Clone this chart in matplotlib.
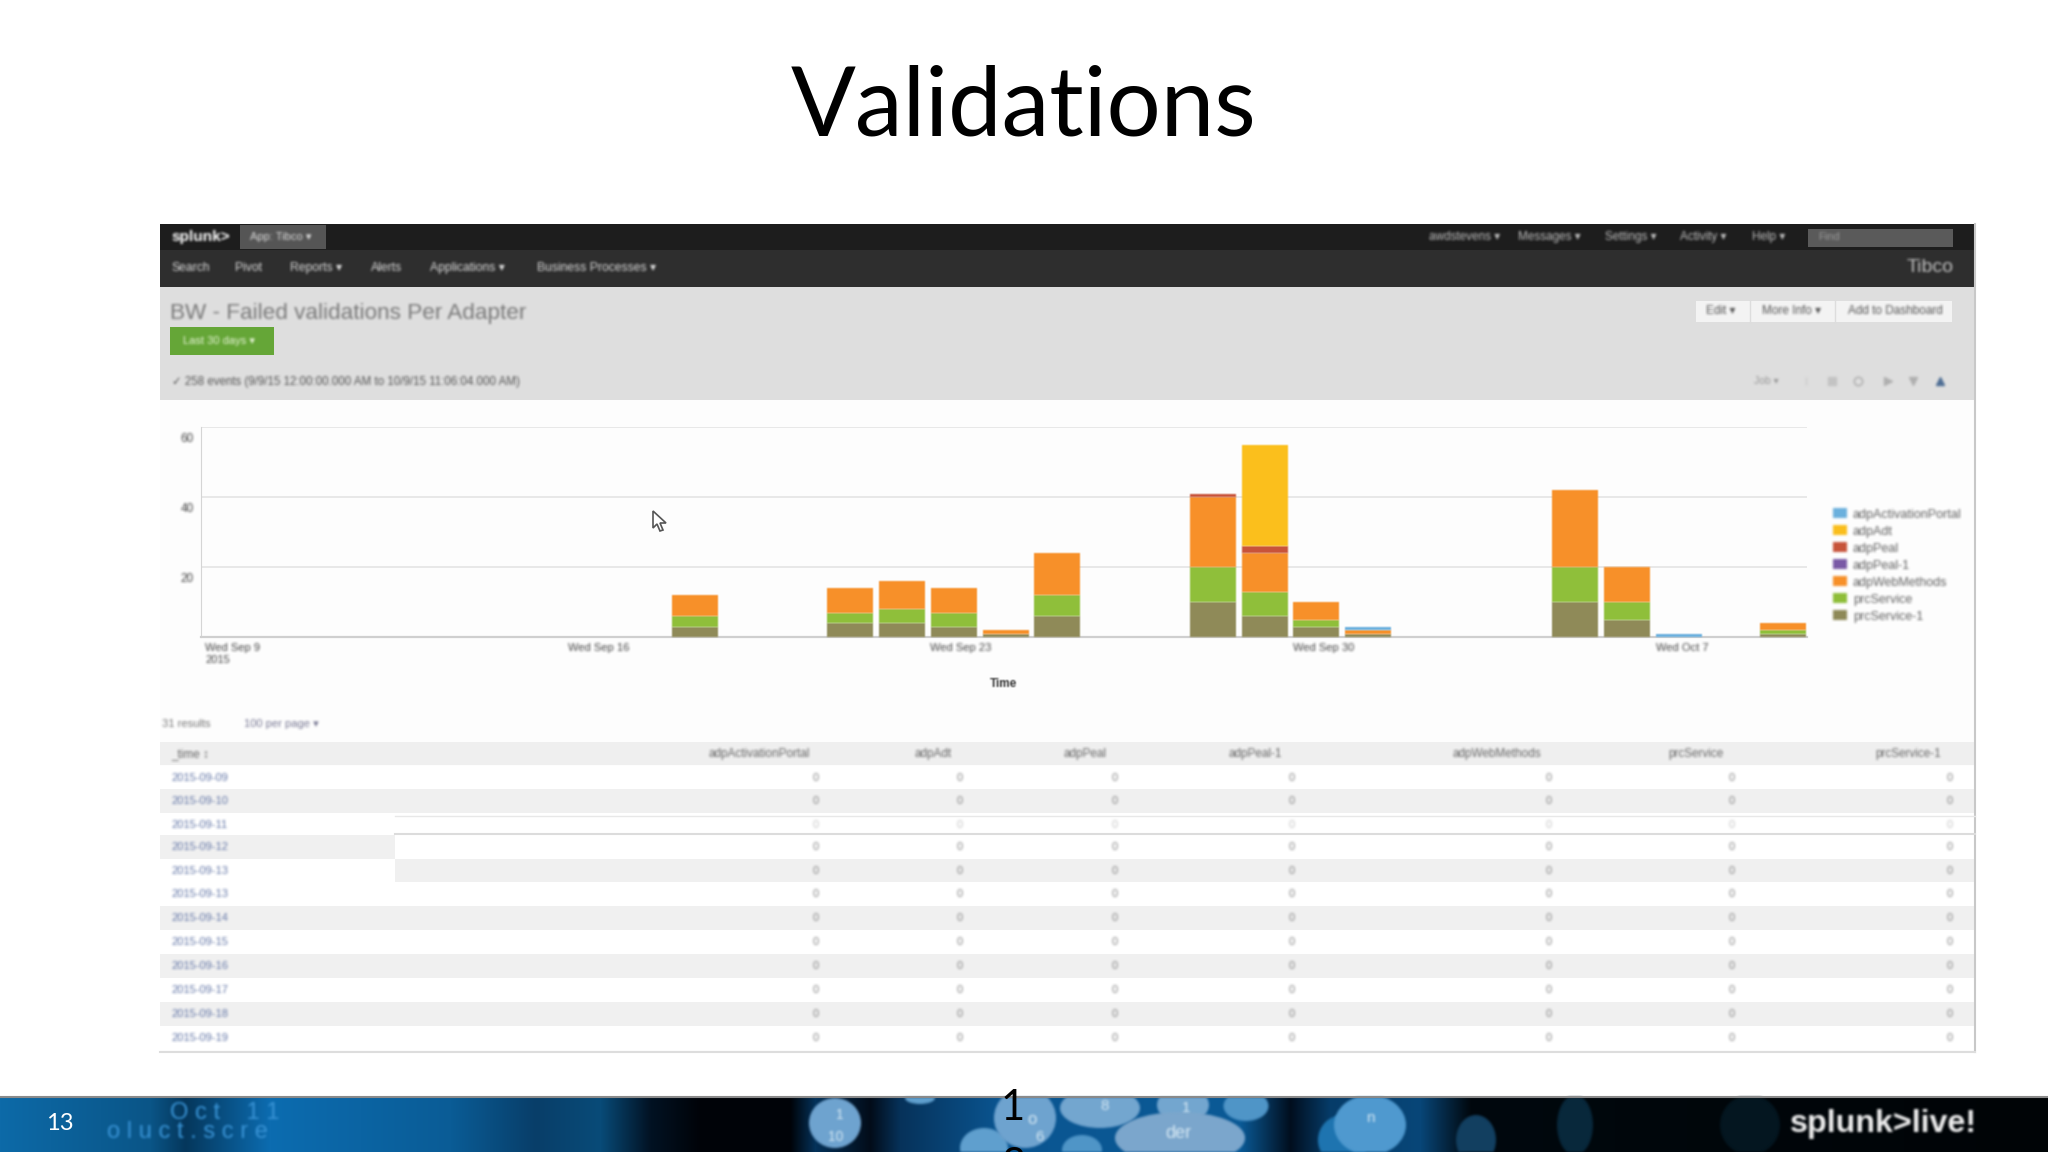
import numpy as np
import matplotlib
matplotlib.use("Agg")
import matplotlib.pyplot as plt
from matplotlib.patches import Rectangle, Ellipse, Polygon
from matplotlib.transforms import ScaledTranslation

# values, one per day, Sep 9 .. Oct 9
adp_activation = [0]*22 + [1] + [0]*5 + [1, 0, 0]
adp_adt        = [0]*20 + [29] + [0]*10
adp_peal       = [0]*19 + [1, 2] + [0]*10
adp_peal1      = [0]*31
adp_web        = [0,0,0,0,0,0,0,0,0,6,0,0,7,8,7,1,12,0,0,20,11,5,1,0,0,0,22,10,0,0,2]
prc_service    = [0,0,0,0,0,0,0,0,0,3,0,0,3,4,4,0,6,0,0,10,7,2,0,0,0,0,10,5,0,0,1]
prc_service1   = [0,0,0,0,0,0,0,0,0,3,0,0,4,4,3,1,6,0,0,10,6,3,1,0,0,0,10,5,0,0,1]

series_names = ["prcService-1", "prcService", "adpWebMethods", "adpPeal-1", "adpPeal", "adpAdt", "adpActivationPortal"]
series_vals = [prc_service1, prc_service, adp_web, adp_peal1, adp_peal, adp_adt, adp_activation]
series_cols = ["#8f8a58", "#8fbf3a", "#f79029", "#7b5aa6", "#c8533a", "#fbbf1c", "#6ab0de"]

y_ticks = [20, 40, 60]
x_tick_days = [0, 7, 14, 21, 28]
x_tick_labels = ["Wed Sep 9\n2015", "Wed Sep 16", "Wed Sep 23", "Wed Sep 30", "Wed Oct 7"]

table_cols = ["adpActivationPortal", "adpAdt", "adpPeal", "adpPeal-1", "adpWebMethods", "prcService", "prcService-1"]
table_rows = ["2015-09-09", "2015-09-10", "2015-09-11", "2015-09-12", "2015-09-13", "2015-09-13",
              "2015-09-14", "2015-09-15", "2015-09-16", "2015-09-17", "2015-09-18", "2015-09-19"]
row_centers = [778, 801, 825, 847, 871, 894, 918, 942, 966, 990, 1014, 1038]
row_shaded = [0, 1, 0, 1, 0, 0, 1, 0, 1, 0, 1, 0]
head_right = [810, 952, 1107, 1282, 1541, 1724, 1941]
val_x = [816, 960, 1115, 1292, 1549, 1732, 1950]

plt.rcParams['font.family'] = ['Liberation Sans', 'DejaVu Sans']


def soft(img, dpi, kernel=(1, 2, 3, 2, 1)):
    # the source is a blurry video frame, blur on premultiplied colour to avoid dark rims
    k = np.array(kernel, dtype=float)
    k = k / k.sum()
    pad = len(k)
    out = np.pad(img, ((pad, pad), (pad, pad), (0, 0)))
    out[..., :3] *= out[..., 3:]
    for axis in (0, 1):
        out = sum(w * np.roll(out, i - len(k) // 2, axis=axis) for i, w in enumerate(k))
    a = out[..., 3:]
    out[..., :3] = np.divide(out[..., :3], a, out=np.zeros_like(out[..., :3]), where=a > 0)
    return np.clip(out, 0, 1), -pad, -pad


def soft_bar(img, dpi):
    return soft(img, dpi, kernel=(1, 2, 1))


fig = plt.figure(figsize=(20.48, 11.52), dpi=100, facecolor="white")

# page layer, in pixel coordinates of the slide
bg = fig.add_axes([0, 0, 1, 1], zorder=0)
bg.set_xlim(0, 2048)
bg.set_ylim(1152, 0)
bg.axis('off')


def box(x0, y0, x1, y1, col, **kw):
    bg.add_patch(Rectangle((x0, y0), x1 - x0, y1 - y0, facecolor=col, edgecolor='none', **kw))


def label(x, y, s, size=8, col="#6a6a6a", ha='left', **kw):
    t = bg.text(x, y, s, fontsize=size, color=col, ha=ha, va='center', **kw)
    t.set_agg_filter(soft)
    return t


bg.text(1024, 109, "Validations", fontsize=69, color="black", ha='center', va='center', family=['Lato', 'DejaVu Sans'])

# splunk screenshot
box(160, 224, 1975, 1052, "#fdfdfd")
box(160, 224, 1975, 250, "#1d1d1d")
box(160, 250, 1975, 287, "#2e2e2e")
box(160, 287, 1975, 400, "#dedede")
box(240, 225, 326, 249, "#555555")
box(1808, 229, 1953, 247, "#5a5a5a")
bg.plot([1975, 1975], [224, 1052], color="#c8c8c8", lw=1.5)
bg.plot([160, 1975], [1052, 1052], color="#dddddd", lw=1.5)

label(171, 237, "splunk>", 11, "white", fontweight='bold')
label(250, 237, "App: Tibco ▾", 8, "#dddddd")
for x, s in zip([171, 235, 290, 371, 430, 537],
                ["Search", "Pivot", "Reports ▾", "Alerts", "Applications ▾", "Business Processes ▾"]):
    label(x, 268, s, 8.7, "#dddddd")
for x, s in zip([1429, 1518, 1605, 1680, 1752],
                ["awdstevens ▾", "Messages ▾", "Settings ▾", "Activity ▾", "Help ▾"]):
    label(x, 237, s, 8.5, "#c0c0c0")
label(1818, 237, "Find", 8, "#999999")
label(1954, 267, "Tibco", 14, "#c0c0c0", ha='right')

label(170, 313, "BW - Failed validations Per Adapter", 16.2, "#7a7a7a")
box(170, 327, 274, 355, "#65a637")
label(183, 341, "Last 30 days ▾", 8, "#e8f5d8")
label(172, 382, "✓ 258 events (9/9/15 12:00:00.000 AM to 10/9/15 11:06:04.000 AM)", 8.3, "#555555")

box(1696, 301, 1952, 322, "#f3f3f3")
for x, s in zip([1706, 1762, 1848], ["Edit ▾", "More Info ▾", "Add to Dashboard"]):
    label(x, 311, s, 8.5, "#555555")
for x in [1750, 1835]:
    bg.plot([x, x], [301, 322], color="#dddddd", lw=1)
label(1754, 381, "Job ▾", 7.5, "#999999")
for x, m, c in zip([1806, 1832, 1858, 1888, 1913, 1940], ["|", "s", "o", ">", "v", "^"],
                   ["#cccccc", "#c4c4c4", "#aaaaaa", "#b0b0b0", "#b0b0b0", "#4f6f95"]):
    ln, = bg.plot([x], [381], marker=m, ms=6, color=c, mfc='none' if m == "o" else c)
    ln.set_agg_filter(soft)

# results table
label(162, 724, "31 results", 8, "#777777")
label(244, 724, "100 per page ▾", 8, "#7a7a95")
box(160, 742, 1975, 765, "#efefef")
label(171, 754, "_time ↕", 8.5, "#666666")
for x, s in zip(head_right, table_cols):
    label(x, 754, s, 8.5, "#666666", ha='right')

for yc, shaded in zip(row_centers, row_shaded):
    box(160, yc - 12, 1975, yc + 12, "#f0f0f0" if shaded else "#ffffff")

# the frame that was caught half redrawn
box(395, 835, 1975, 859, "#ffffff")
box(160, 859, 395, 882, "#ffffff")
box(395, 859, 1975, 882, "#f0f0f0")
bg.plot([395, 1975], [816, 816], color="#e8e8e8", lw=1)
bg.plot([395, 1975], [834, 834], color="#dcdcdc", lw=1.5)

for i, (yc, day) in enumerate(zip(row_centers, table_rows)):
    label(171, yc, day, 8, "#6578a8")
    for x in val_x:
        label(x, yc, "0", 8, "#c8c8c8" if i == 2 else "#888888", ha='center')

# footer strip
foot_x = [0, 150, 185, 270, 450, 535, 600, 650, 700, 790, 815, 870, 900, 1000, 1240, 1290, 1330, 1420, 1470, 2048]
foot_r = [13, 10, 5, 12, 10, 8, 8, 2, 0, 0, 4, 2, 6, 10, 10, 1, 6, 8, 1, 0]
foot_g = [106, 85, 55, 108, 92, 62, 75, 18, 3, 3, 50, 12, 50, 85, 90, 14, 60, 70, 8, 4]
foot_b = [168, 135, 92, 176, 150, 105, 120, 35, 8, 8, 90, 25, 90, 145, 150, 30, 105, 120, 14, 6]
xx = np.arange(2048)
strip = np.stack([np.interp(xx, foot_x, c) for c in (foot_r, foot_g, foot_b)], axis=-1)[None, :, :] / 255.0
bg.imshow(strip, extent=(0, 2048, 1152, 1097), aspect='auto', zorder=1)
bg.set_xlim(0, 2048)
bg.set_ylim(1152, 0)
clip_rect = Rectangle((0, 1097), 2048, 55, transform=bg.transData)
for cx, cy, w, h, c in [(835, 1123, 52, 50, "#6fa3cf"), (920, 1098, 30, 12, "#5f9fce"),
                        (984, 1148, 48, 40, "#5f9fce"), (1025, 1118, 62, 60, "#6fa3cf"),
                        (1082, 1150, 40, 30, "#4f95c8"), (1100, 1108, 80, 40, "#74a6d0"),
                        (1183, 1105, 52, 36, "#74a6d0"), (1246, 1106, 45, 30, "#4f95c8"),
                        (1180, 1138, 130, 52, "#7ca6cc"), (1343, 1140, 50, 50, "#1f75b0"),
                        (1370, 1125, 72, 60, "#4f9ad0"), (1476, 1140, 40, 50, "#123f60"),
                        (1575, 1125, 36, 60, "#08283c"), (1750, 1125, 60, 60, "#041620")]:
    e = Ellipse((cx, cy), w, h, facecolor=c, edgecolor='none', zorder=2)
    bg.add_patch(e)
    e.set_clip_path(clip_rect)
    e.set_agg_filter(soft)
bg.plot([0, 2048], [1097, 1097], color="#8a8a8a", lw=1.5, zorder=2)
for x, y, s, sz in [(840, 1115, "1", 10), (836, 1137, "10", 10), (1032, 1119, "o", 12), (1040, 1137, "6", 11),
                    (1105, 1106, "8", 11), (1186, 1108, "1", 11), (1178, 1133, "der", 13), (1370, 1118, "n", 11)]:
    t = bg.text(x, y, s, fontsize=sz, color="#d8eaf5", ha='center', va='center', zorder=3)
    t.set_agg_filter(soft)
for x, y, s in [(170, 1113, "O c t    1 1"), (107, 1132, "o l u c t . s c r e")]:
    t = bg.text(x, y, s, fontsize=17, color="#3a94d6", ha='left', va='center', zorder=3)
    t.set_agg_filter(soft)
bg.text(46, 1123, "13", fontsize=17, color="white", va='center', zorder=4, ha='left', family=['Lato', 'DejaVu Sans'])
bg.text(1013, 1108, "1", fontsize=30, color="black", ha='center', va='center', zorder=4, family=['Lato', 'DejaVu Sans'])
bg.text(1013, 1166, "3", fontsize=30, color="black", ha='center', va='center', zorder=4, family=['Lato', 'DejaVu Sans'])
label(1977, 1124, "splunk>live!", 23.2, "#f0f0f0", ha='right', fontweight='bold', zorder=4)

# chart
ax = fig.add_axes([201/2048, (1152-637)/1152, (1807-201)/2048, 210/1152], zorder=2)
ax.patch.set_alpha(0)
days = np.arange(31)
bottom = np.zeros(31)
handles = []
for name, vals, col in zip(series_names, series_vals, series_cols):
    vals = np.array(vals)
    b = ax.bar(days + 0.53, vals, width=0.89, bottom=bottom, color=col, label=name, linewidth=0, zorder=3)
    for p in b:
        p.set_agg_filter(soft_bar)
    handles.append(b)
    bottom = bottom + vals

ax.set_xlim(0, 31)
ax.set_ylim(0, 60)
ax.set_yticks(y_ticks)
ax.set_yticklabels([str(v) for v in y_ticks], va='top')
ax.grid(axis='y', color="#e6e6e6", lw=1.3, zorder=0)
ax.set_xticks(x_tick_days)
ax.set_xticklabels(x_tick_labels, ha='left', fontsize=8, color="#444444", linespacing=1.25)
ax.tick_params(axis='x', length=0, pad=4)
ax.tick_params(axis='y', length=0, pad=5, labelsize=8.5, labelcolor="#444444")
for s in ['top', 'right']:
    ax.spines[s].set_visible(False)
ax.spines['left'].set_color("#d5d5d5")
ax.spines['bottom'].set_color("#cfcfcf")
ax.spines['bottom'].set_linewidth(1.6)
ax.set_xlabel("Time", fontsize=8.5, fontweight='bold', color="#333333", labelpad=10)
ax.xaxis.label.set_agg_filter(soft_bar)

# tick labels sit a little off the tick, as in splunk's charting
for lab in ax.get_yticklabels():
    lab.set_transform(lab.get_transform() + ScaledTranslation(0, -4/72, fig.dpi_scale_trans))
    lab.set_agg_filter(soft)
for lab in ax.get_xticklabels():
    lab.set_transform(lab.get_transform() + ScaledTranslation(3/72, 0, fig.dpi_scale_trans))
    lab.set_agg_filter(soft)

leg = ax.legend(handles[::-1], series_names[::-1], loc='upper left', bbox_to_anchor=(1.016, 0.614),
                frameon=False, fontsize=9, labelcolor="#606060", handlelength=1.15, handleheight=0.9,
                labelspacing=0.36, handletextpad=0.45, borderaxespad=0, borderpad=0)
for t in leg.get_texts():
    t.set_agg_filter(soft)
for h in leg.legend_handles:
    h.set_agg_filter(soft)

# mouse pointer left in the screenshot
bg.add_patch(Polygon([(653, 511), (653, 528), (657, 524), (660, 531), (663, 530), (660, 523), (666, 523)],
                     closed=True, facecolor="white", edgecolor="#555555", lw=1.2, zorder=5))

fig.savefig("out.png", dpi=100)
